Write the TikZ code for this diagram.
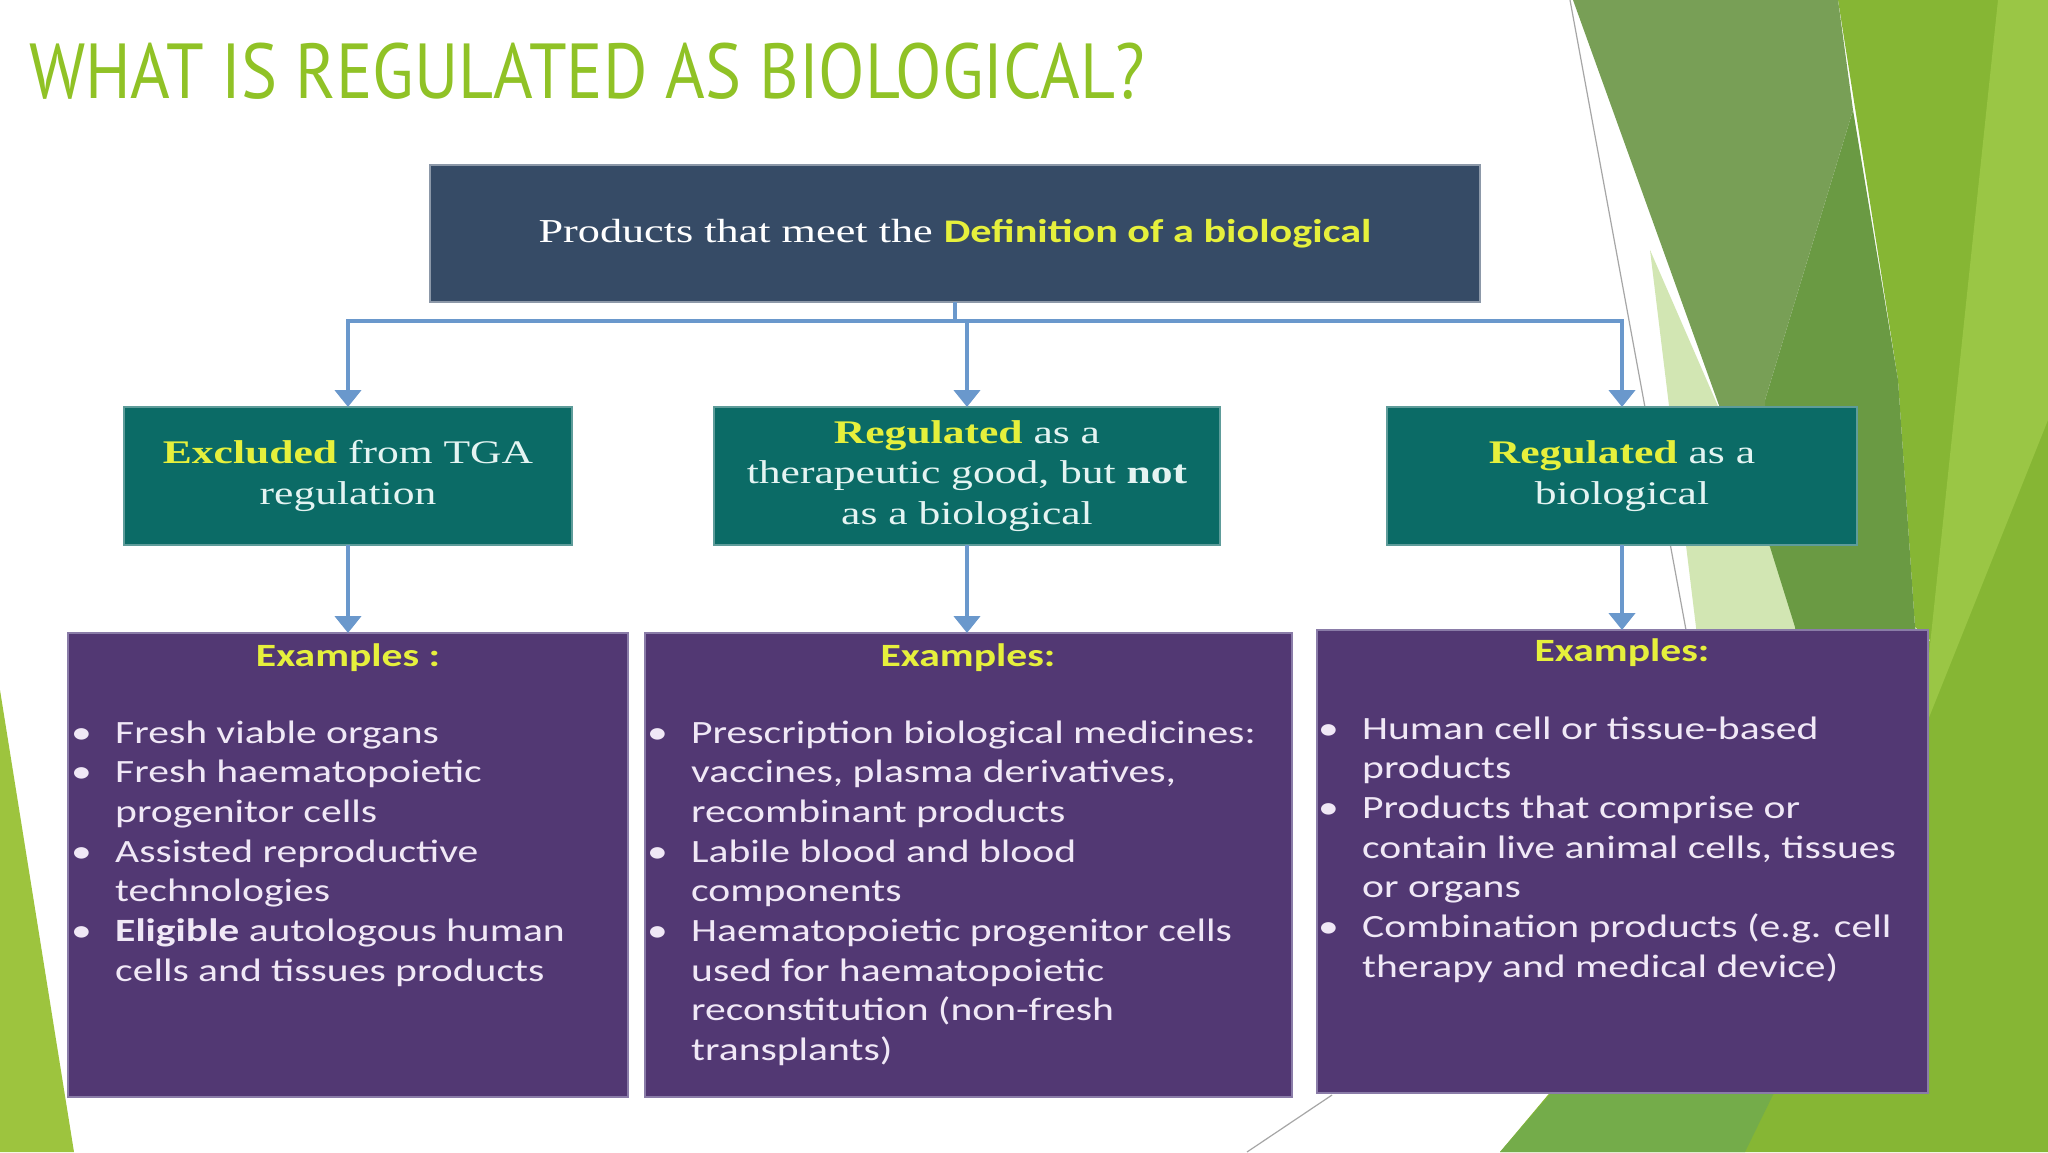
\documentclass[tikz,border=0pt]{standalone}
\usepackage{fontspec}
\usetikzlibrary{arrows.meta}
\setmainfont{Carlito}
\newfontfamily\titlefont[FakeStretch=0.87]{PT Sans}
\newfontfamily\serifx[FakeStretch=1.32]{Liberation Serif}
\newfontfamily\sansx[FakeStretch=1.28]{Carlito}

\definecolor{titlegreen}{HTML}{90C226}
\definecolor{limeC}{HTML}{86B634}
\definecolor{lightlimeC}{HTML}{9AC645}
\definecolor{mutedA}{HTML}{789F56}
\definecolor{darkD}{HTML}{6A9A43}
\definecolor{lightB}{HTML}{D2E6B3}
\definecolor{bottomM}{HTML}{74AC4A}
\definecolor{leftG}{HTML}{9DC43E}
\definecolor{thinline}{HTML}{A6A6A6}
\definecolor{topblue}{HTML}{364B66}
\definecolor{topedge}{HTML}{8C98A8}
\definecolor{teal1}{HTML}{0B6B66}
\definecolor{tealedge}{HTML}{5E9C9A}
\definecolor{tealtext}{HTML}{E4F4F2}
\definecolor{purp}{HTML}{523873}
\definecolor{purpedge}{HTML}{8A7CA8}
\definecolor{listtext}{HTML}{F0E8F6}
\definecolor{yel}{HTML}{E6F03C}
\definecolor{connblue}{HTML}{6A98CC}

\newcommand{\bl}{\makebox[44pt][l]{•}}
\newcommand{\ind}{\hspace*{44pt}}
\newcommand{\yb}[1]{\textcolor{yel}{\textbf{#1}}}

\tikzset{
  box/.style={inner sep=0pt, outer sep=0pt},
  topbox/.style={box, fill=topblue, draw=topedge, line width=1.5pt,
    minimum width=1050pt, minimum height=137pt, text=white},
  midbox/.style={box, fill=teal1, draw=tealedge, line width=1.5pt,
    minimum height=138pt, align=center,
    font=\serifx\fontsize{33}{40.5}\selectfont, text=tealtext},
  exbox/.style={box, fill=purp, draw=purpedge, line width=1.5pt},
  conn/.style={draw=connblue, line width=4.5pt},
  arr/.style={conn, -{Triangle[width=26pt,length=17pt]}},
  extitle/.style={anchor=base, inner sep=0pt,
    font=\sansx\bfseries\fontsize{32.5}{39.7}\selectfont, text=yel},
  exlist/.style={anchor=base west, inner sep=0pt,
    font=\sansx\fontsize{32.5}{39.7}\selectfont, text=listtext},
}

\begin{document}
\begin{tikzpicture}[x=1pt,y=-1pt]
\useasboundingbox (0,0) rectangle (2048,1152);
\fill[white] (0,0) rectangle (2048,1152);

% right decorations
\fill[limeC] (1838,0) -- (2048,0) -- (2048,1152) -- (1500,1152) -- (1930,640) -- (1915,627) -- (1898,380) -- cycle;
\fill[lightB] (1650,250) -- (1785,560) -- (1810,660) -- (1700,660) -- cycle;
\fill[darkD] (1853,110) -- (1898,380) -- (1915,627) -- (1925,660) -- (1800,660) -- (1795,627) -- (1770,547) -- (1765,400) -- cycle;
\fill[lightlimeC] (1998,0) -- (2048,0) -- (2048,420) -- (1920,740) -- cycle;
\fill[mutedA] (1573,0) -- (1838,0) -- (1853,110) -- (1765,400) -- (1770,547) -- cycle;
\fill[bottomM] (1500,1152) -- (1745,1152) -- (1790,1060) -- (1580,1060) -- cycle;
\draw[thinline, line width=1.2pt] (1570,0) -- (1686,630);
\draw[thinline, line width=1.2pt] (1332,1095) -- (1247,1152);
% left decoration
\fill[leftG] (0,690) -- (74,1152) -- (0,1152) -- cycle;

% title
\node[anchor=base west, inner sep=0pt, font=\titlefont\fontsize{78}{80}\selectfont,
  text=titlegreen] (title) at (29,98) {WHAT IS REGULATED AS BIOLOGICAL?};

% top box
\node[topbox] (top) at (955,233.5)
  {{\serifx\fontsize{33.5}{40}\selectfont Products that meet the }{\sansx\bfseries\fontsize{33}{40}\selectfont\color{yel}Definition of a biological}};

% middle boxes
\node[midbox, minimum width=448pt] (m1) at (348,476)
  {\yb{Excluded} from TGA\\regulation};
\node[midbox, minimum width=506pt] (m2) at (967,476)
  {\yb{Regulated} as a\\therapeutic good, but \textbf{not}\\as a biological};
\node[midbox, minimum width=470pt] (m3) at (1622,476)
  {\yb{Regulated} as a\\biological};

% bottom boxes
\node[exbox, minimum width=560pt, minimum height=464pt] (b1) at (348,865) {};
\node[exbox, minimum width=647pt, minimum height=464pt] (b2) at (968.5,865) {};
\node[exbox, minimum width=611pt, minimum height=463pt] (b3) at (1622.5,861.5) {};

\node[extitle] (e1) at (348,666) {Examples :};
\node[extitle] (e2) at (968,666) {Examples:};
\node[extitle] (e3) at (1622,661) {Examples:};

\node[exlist] (l1) at (71,743) {\begin{tabular}[t]{@{}l@{}}
\bl Fresh viable organs\\
\bl Fresh haematopoietic\\
\ind progenitor cells\\
\bl Assisted reproductive\\
\ind technologies\\
\bl \textbf{Eligible} autologous human\\
\ind cells and tissues products
\end{tabular}};

\node[exlist] (l2) at (647,743) {\begin{tabular}[t]{@{}l@{}}
\bl Prescription biological medicines:\\
\ind vaccines, plasma derivatives,\\
\ind recombinant products\\
\bl Labile blood and blood\\
\ind components\\
\bl Haematopoietic progenitor cells\\
\ind used for haematopoietic\\
\ind reconstitution (non-fresh\\
\ind transplants)
\end{tabular}};

\node[exlist] (l3) at (1318,739) {\begin{tabular}[t]{@{}l@{}}
\bl Human cell or tissue-based\\
\ind products\\
\bl Products that comprise or\\
\ind contain live animal cells, tissues\\
\ind or organs\\
\bl Combination products (e.g. cell\\
\ind therapy and medical device)
\end{tabular}};

% connectors
\coordinate (bus) at (0,321);
\draw[conn] (top.south) -- (top.south |- bus);
\draw[conn, line cap=rect] (m1.north |- bus) -- (m3.north |- bus);
\draw[arr] (m1.north |- bus) -- (m1.north);
\draw[arr] (m2.north |- bus) -- (m2.north);
\draw[arr] (m3.north |- bus) -- (m3.north);
\draw[arr] (m1.south) -- (m1.south |- b1.north);
\draw[arr] (m2.south) -- (m2.south |- b2.north);
\draw[arr] (m3.south) -- (m3.south |- b3.north);
\end{tikzpicture}
\end{document}
